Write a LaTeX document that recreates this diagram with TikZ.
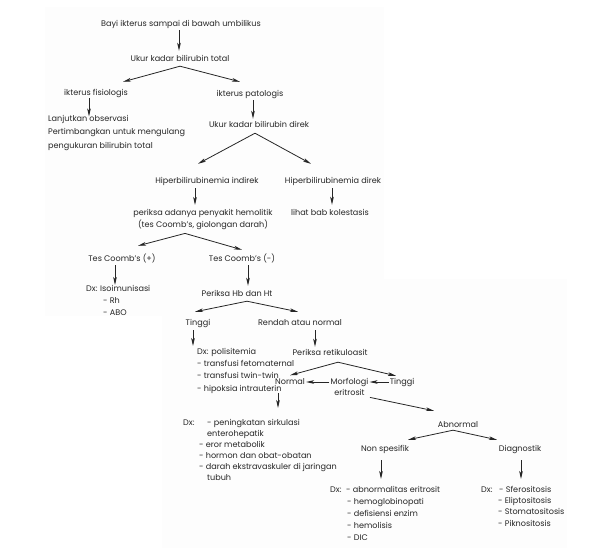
\documentclass[tikz,border=0pt]{standalone}
\usepackage{fontspec}
\setmainfont{Poppins}
\usetikzlibrary{arrows.meta,calc}
\definecolor{ink}{HTML}{262626}
\newcommand{\fs}[1]{\fontsize{8.1}{#1}\selectfont}
\begin{document}
\begin{tikzpicture}[x=1pt,y=-1pt,
 lbl/.style={inner sep=0pt,text height=5.5pt,text depth=1.5pt,text=ink,font=\fs{11.5}},
 lst/.style={inner sep=0pt,anchor=north west,text=ink,font=\fs{11.5}},
 arr/.style={draw=ink,line width=0.8pt,-{Stealth[length=8pt,width=3.6pt,inset=2pt]}}]
\useasboundingbox (0,0) rectangle (598,555);
\fill[black!0.6] (162,279) rectangle (567,548);
\fill[black!0.9] (45,7) rectangle (384,316);
% nodes
\node[lbl] (bayi) at (181,24) {Bayi ikterus sampai di bawah umbilikus};
\node[lbl] (ukur1) at (180,59) {Ukur kadar bilirubin total};
\node[lbl] (fis) at (96,93) {ikterus fisiologis};
\node[lbl] (pat) at (250,94) {ikterus patologis};
\node[lst,font=\fs{13.5}] (lanj) at (48,111.5) {\begin{tabular}{@{}l@{}}Lanjutkan observasi\\Pertimbangkan untuk mengulang\\pengukuran bilirubin total\end{tabular}};
\node[lbl] (ukur2) at (259,125) {Ukur kadar bilirubin direk};
\node[lbl] (hind) at (207,181) {Hiperbilirubinemia indirek};
\node[lbl] (hdir) at (333,181) {Hiperbilirubinemia direk};
\node[lbl] (lihat) at (330,213) {lihat bab kolestasis};
\node[lst,anchor=north,font=\fs{12}] (periksa) at (203,206.6) {\begin{tabular}{@{}c@{}}periksa adanya penyakit hemolitik\\(tes Coomb’s, giolongan darah)\end{tabular}};
\node[lbl] (cplus) at (122,259) {Tes Coomb’s (+)};
\node[lbl] (cminus) at (242,259) {Tes Coomb’s (-)};
\node[lst,font=\fs{12}] (iso) at (86,282.6) {\begin{tabular}{@{}l@{}}\makebox[14pt][l]{Dx:}Isoimunisasi\\\hspace*{17pt}- Rh\\\hspace*{17pt}- ABO\end{tabular}};
\node[lbl] (hbht) at (237,294) {Periksa Hb dan Ht};
\node[lbl] (tinggi1) at (198,323) {Tinggi};
\node[lbl] (rendah) at (300,323) {Rendah atau normal};
\node[lst,font=\fs{12.3}] (poli) at (197,345.4) {\begin{tabular}{@{}l@{}}Dx: polisitemia\\- transfusi fetomaternal\\- transfusi twin-twin\\- hipoksia intrauterin\end{tabular}};
\node[lbl] (retik) at (330,353) {Periksa retikuloasit};
\node[lbl] (normal) at (290,382) {Normal};
\node[lst,anchor=north,font=\fs{11}] (morf) at (349.5,376.3) {\begin{tabular}{@{}c@{}}Morfologi\\eritrosit\end{tabular}};
\node[lbl] (tinggi2) at (402,382) {Tinggi};
\node[lst,font=\fs{11}] (dxn) at (183,417.3) {\begin{tabular}{@{}l@{}}\makebox[24pt][l]{Dx:}- peningkatan sirkulasi\\\hspace*{24pt}enterohepatik\\\hspace*{16pt}- eror metabolik\\\hspace*{16pt}- hormon dan obat-obatan\\\hspace*{16pt}- darah ekstravaskuler di jaringan\\\hspace*{24pt}tubuh\end{tabular}};
\node[lbl] (abn) at (458,425) {Abnormal};
\node[lbl] (nons) at (385,449) {Non spesifik};
\node[lbl] (diag) at (520,449) {Diagnostik};
\node[lst,font=\fs{12}] (dxns) at (330,483.6) {\begin{tabular}{@{}l@{}}\makebox[16pt][l]{Dx:}- abnormalitas eritrosit\\\hspace*{17pt}- hemoglobinopati\\\hspace*{17pt}- defisiensi enzim\\\hspace*{17pt}- hemolisis\\\hspace*{17pt}- DIC\end{tabular}};
\node[lst,font=\fs{11.3}] (dxd) at (481,484.1) {\begin{tabular}{@{}l@{}}\makebox[18pt][l]{Dx:}- Sferositosis\\\hspace*{17pt}- Eliptositosis\\\hspace*{17pt}- Stomatositosis\\\hspace*{17pt}- Piknositosis\end{tabular}};
% connectors
\draw[arr] ($(bayi.south)+(-2,2.5)$) -- ($(ukur1.north)+(-1,-4.5)$);
\draw[arr] ($(ukur1.south)+(0,3.5)$) -- ($(fis.north)+(27,-7.5)$);
\draw[arr] ($(ukur1.south)+(0,3.5)$) -- ($(pat.north)+(-10,-8.5)$);
\draw[arr] ($(fis.south)+(-7,1.5)$) -- ($(lanj.north west)+(41,5)$);
\draw[arr] ($(pat.south)+(3,2.5)$) -- ($(ukur2.north)+(-6,-2.5)$);
\draw[arr] ($(ukur2.south)+(-4,4.5)$) -- ($(hind.north)+(-9,-13.5)$);
\draw[arr] ($(ukur2.south)+(-4,4.5)$) -- ($(hdir.north)+(-22,-13.5)$);
\draw[arr] ($(hind.south)+(-12,3.5)$) -- ($(periksa.north)+(-8,-1.6)$);
\draw[arr] ($(hdir.south)+(-1,3.5)$) -- ($(lihat.north)+(2,-4.5)$);
\draw[arr] ($(periksa.south)+(-18,2.4)$) -- ($(cplus.north)+(16,-9.5)$);
\draw[arr] ($(periksa.south)+(-18,2.4)$) -- ($(cminus.north)+(0,-5.5)$);
\draw[arr] ($(cplus.south)+(-7,2.5)$) -- ($(iso.north west)+(29,2.4)$);
\draw[arr] ($(cminus.south)+(6,2.5)$) -- ($(hbht.north)+(11,-4.5)$);
\draw[arr] ($(hbht.south)+(10,3.5)$) -- ($(tinggi1.north)+(-3,-7.5)$);
\draw[arr] ($(hbht.south)+(10,3.5)$) -- ($(rendah.north)+(-2,-7.5)$);
\draw[arr] ($(tinggi1.south)+(-5,3.5)$) -- ($(poli.north west)+(-4,0.6)$);
\draw[arr] ($(rendah.south)+(15,3.5)$) -- ($(retik.north)+(-15,-2.5)$);
\draw[arr] ($(retik.south)+(8,5.5)$) -- ($(normal.north)+(0,-3)$);
\draw[arr] ($(retik.south)+(8,5.5)$) -- ($(tinggi2.north)+(-6,-2.5)$);
\draw[arr,shorten <=1pt,shorten >=1pt] (morf.west |- normal.east) -- (normal.east);
\draw[arr,shorten <=1pt,shorten >=1pt] (tinggi2.west) -- (morf.east |- tinggi2.west);
\draw[arr] ($(morf.south)+(20.5,-1.3)$) -- ($(abn.north)+(-24,-10.5)$);
\draw[arr] ($(normal.south)+(-12,7.5)$) -- ($(dxn.north west)+(95,-9.3)$);
\draw[arr] ($(abn.south)+(-5,1.5)$) -- ($(nons.north)+(23,-5.5)$);
\draw[arr] ($(abn.south)+(-5,1.5)$) -- ($(diag.north)+(-23,-5.5)$);
\draw[arr] ($(nons.south)+(-4,7.5)$) -- ($(dxns.north west)+(51,-4.6)$);
\draw[arr] ($(diag.south)+(1,7.5)$) -- ($(dxd.north west)+(40,-5.1)$);
\end{tikzpicture}
\end{document}
